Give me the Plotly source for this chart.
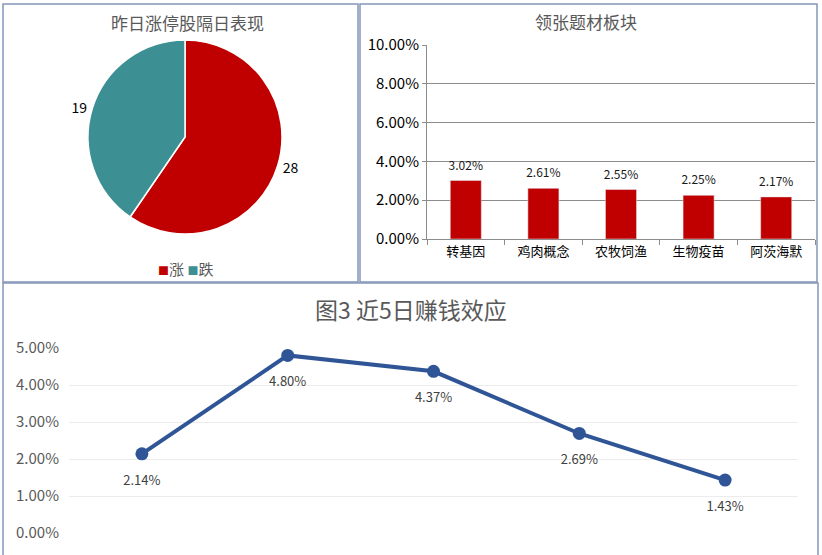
import plotly.graph_objects as go

W, H = 822, 555

# ---- data ----
pie_labels = ["涨", "跌"]
pie_values = [28, 19]
pie_colors = ["#C00000", "#3C8F93"]

bar_categories = ["转基因", "鸡肉概念", "农牧饲渔", "生物疫苗", "阿茨海默"]
bar_values = [0.0302, 0.0261, 0.0255, 0.0225, 0.0217]

line_days = ["第1日", "第2日", "第3日", "第4日", "第5日"]
line_values = [0.0214, 0.0480, 0.0437, 0.0269, 0.0143]

FONT = "Noto Sans CJK SC"
GRAY = "#595959"
BORDER = "#8497b8"


def px_x(x):
    return x / W


def px_y(y):
    return 1 - y / H


def pct(v):
    return f"{v*100:.2f}%"


fig = go.Figure()

# Pie
fig.add_trace(go.Pie(
    labels=pie_labels, values=pie_values, sort=False, direction="clockwise",
    rotation=0,
    marker=dict(colors=pie_colors, line=dict(color="white", width=1.5)),
    textinfo="value", textposition="outside",
    textfont=dict(family=FONT, size=14, color="#000000"),
    domain=dict(x=[px_x(20), px_x(350)], y=[px_y(234), px_y(40)]),
    showlegend=False, hoverinfo="label+value",
))

# Bar
fig.add_trace(go.Bar(
    x=bar_categories, y=bar_values, marker_color="#C00000", width=0.4,
    showlegend=False, xaxis="x", yaxis="y",
))
# Bar data labels (invisible markers lift labels above bars)
fig.add_trace(go.Scatter(
    x=bar_categories, y=bar_values, mode="markers+text",
    marker=dict(size=11, opacity=0),
    text=[pct(v) for v in bar_values], textposition="top center",
    textfont=dict(family=FONT, size=12, color="#1a1a1a"),
    cliponaxis=False, showlegend=False, hoverinfo="skip", xaxis="x", yaxis="y",
))

# Line
fig.add_trace(go.Scatter(
    x=line_days, y=line_values, mode="lines+markers",
    line=dict(color="#2F5597", width=4), marker=dict(size=13, color="#2F5597"),
    cliponaxis=False, showlegend=False, xaxis="x2", yaxis="y2",
))
# Line data labels (invisible larger markers push the labels further below)
fig.add_trace(go.Scatter(
    x=line_days, y=line_values, mode="markers+text",
    marker=dict(size=32, opacity=0),
    text=[pct(v) for v in line_values], textposition="bottom center",
    textfont=dict(family=FONT, size=13, color="#404040"),
    cliponaxis=False, showlegend=False, hoverinfo="skip", xaxis="x2", yaxis="y2",
))

fig.update_layout(
    width=W, height=H, margin=dict(l=0, r=0, t=0, b=0, autoexpand=False),
    paper_bgcolor="white", plot_bgcolor="white",
    font=dict(family=FONT, color=GRAY),
    showlegend=False,
    xaxis=dict(domain=[px_x(427), px_x(815)], anchor="y", automargin=False,
               range=[-0.5, len(bar_categories) - 0.5],
               showline=True, linecolor="#8c8c8c", linewidth=1,
               ticks="outside", ticklen=5, tickcolor="#8c8c8c",
               tickson="boundaries", showgrid=False,
               tickfont=dict(family=FONT, size=13, color="#000000")),
    yaxis=dict(domain=[px_y(239), px_y(45)], anchor="x", range=[0, 0.10], automargin=False,
               dtick=0.02, tickformat=".2%", showgrid=True, gridcolor="#8c8c8c",
               gridwidth=1, showline=True, linecolor="#8c8c8c", zeroline=False,
               ticks="outside", ticklen=4, tickcolor="#8c8c8c",
               tickfont=dict(family=FONT, size=15, color="#000000")),
    xaxis2=dict(domain=[px_x(69), px_x(798)], anchor="y2", showticklabels=False, automargin=False,
                range=[-0.5, len(line_days) - 0.5],
                showgrid=False, showline=False, zeroline=False, ticks=""),
    yaxis2=dict(domain=[px_y(533), px_y(348)], anchor="x2", range=[0, 0.05], automargin=False,
                dtick=0.01, tickformat=".2%", showgrid=True, gridcolor="#ececec",
                gridwidth=1, zeroline=False, showline=False, ticks="",
                ticklabelstandoff=9,
                tickfont=dict(family=FONT, size=15, color=GRAY)),
)

# Pie legend (drawn as text with coloured squares)
legend_text = " ".join(
    f"<span style='color:{c};font-size:11px'>■</span>{lab}" for lab, c in zip(pie_labels, pie_colors)
)
fig.add_annotation(text=legend_text, x=px_x(185), y=px_y(268), xref="paper", yref="paper",
                   xanchor="center", yanchor="middle",
                   showarrow=False, font=dict(family=FONT, size=15, color=GRAY))

# Titles
for txt, x, y, size in [("昨日涨停股隔日表现", 187, 22, 17),
                        ("领张题材板块", 586, 21, 17),
                        ("图3 近5日赚钱效应", 411, 309, 23)]:
    fig.add_annotation(text=txt, x=px_x(x), y=px_y(y), xref="paper", yref="paper",
                       xanchor="center", yanchor="middle",
                       showarrow=False, font=dict(family=FONT, size=size, color=GRAY))

# Panel borders
for (x0, y0, x1, y1) in [(3, 4, 358, 282), (360, 4, 817, 282), (3, 283, 818, 560)]:
    fig.add_shape(type="rect", xref="paper", yref="paper",
                  x0=px_x(x0), x1=px_x(x1), y0=px_y(y1), y1=px_y(y0),
                  line=dict(color=BORDER, width=1.5), fillcolor="rgba(0,0,0,0)", layer="above")

fig.write_html("out.html", config={"displayModeBar": False},
               post_script="document.body.style.margin='0px';")
